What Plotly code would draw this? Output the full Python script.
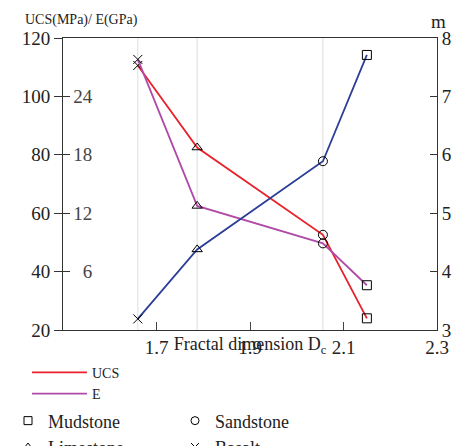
import plotly.graph_objects as go

rocks = ["Basalt", "Limestone", "Sandstone", "Mudstone"]
dc = [1.66, 1.787, 2.056, 2.15]
ucs = [110.6, 82.5, 52.6, 24.0]
e_mod = [27.8, 12.75, 8.9, 4.6]
m_val = [3.19, 4.38, 5.89, 7.71]
symbols = ["x-thin-open", "triangle-up-open", "circle-open", "square-open"]
legend_order = ["Mudstone", "Sandstone", "Limestone", "Basalt"]

RED, PUR, BLU = "#e8212a", "#b04aa8", "#2b3d96"
F = "Liberation Serif"
fig = go.Figure()

for name, ys, ax, col in [("UCS", ucs, "y", RED), ("E", e_mod, "y2", PUR), ("m", m_val, "y3", BLU)]:
    fig.add_trace(go.Scatter(x=dc, y=ys, yaxis=ax, mode="lines", name=name,
                             line=dict(color=col, width=1.8), legend="legend"))
    fig.add_trace(go.Scatter(x=dc, y=ys, yaxis=ax, mode="markers", showlegend=False,
                             marker=dict(symbol=symbols, size=9, color="black",
                                         line=dict(color="black", width=1))))

for r in legend_order:
    fig.add_trace(go.Scatter(x=[None], y=[None], mode="markers", name=r, legend="legend2",
                             marker=dict(symbol=symbols[rocks.index(r)], size=8, color="black",
                                         line=dict(color="black", width=1))))

for xv in dc[:3]:
    fig.add_shape(type="line", x0=xv, x1=xv, y0=0, y1=1, yref="paper",
                  line=dict(color="#dddddd", width=1), layer="below")

fig.update_layout(
    width=474, height=446, margin=dict(l=55, r=45, t=30, b=124, autoexpand=False),
    plot_bgcolor="white", paper_bgcolor="white",
    font=dict(family=F, size=19, color="#222"),
    xaxis=dict(range=[1.5, 2.3], tickvals=[1.5, 1.7, 1.9, 2.1, 2.3], ticktext=["1.5","1.7","1.9","2.1","2.3"],
               ticks="inside", ticklen=8, showline=True, linecolor="#333", mirror=True,
               showgrid=False, zeroline=False,
               title=dict(text="Fractal dimension D<sub>c</sub>", font=dict(size=18), standoff=2)),
    yaxis=dict(range=[20, 120], tickvals=[20, 40, 60, 80, 100, 120], ticks="outside", ticklen=8,
               tickcolor="#333", showline=True, linecolor="#333", showgrid=False, zeroline=False),
    yaxis2=dict(range=[0, 30], overlaying="y", side="left", tickvals=[0, 6, 12, 18, 24, 30],
                ticktext=["  0", "  6", "12", "18", "24", "30"],
                ticks="inside", ticklen=7, tickcolor="#333", ticklabelposition="inside",
                ticklabelstandoff=4, showgrid=False, zeroline=False, showline=False),
    yaxis3=dict(range=[3, 8], overlaying="y", side="right", tickvals=[3, 4, 5, 6, 7, 8],
                ticks="inside", ticklen=7, tickcolor="#333", showgrid=False, zeroline=False,
                showline=True, linecolor="#333"),
    legend=dict(orientation="h", xref="container", x=0.04, yref="container", y=0.135,
                xanchor="left", yanchor="middle", entrywidth=150, itemwidth=55,
                font=dict(size=14)),
    legend2=dict(orientation="h", xref="container", x=0.0, yref="container", y=0.045,
                 xanchor="left", yanchor="middle", entrywidth=122, itemwidth=30,
                 font=dict(size=18)),
    annotations=[
        dict(text="UCS(MPa)/ E(GPa)", x=0, y=1, xref="paper", yref="paper", xshift=-40, yshift=8,
             xanchor="left", yanchor="bottom", showarrow=False, font=dict(size=14)),
        dict(text="m", x=1, y=1, xref="paper", yref="paper", xshift=-8, yshift=4,
             xanchor="left", yanchor="bottom", showarrow=False, font=dict(size=19)),
    ],
)
fig.write_html("out.html")
